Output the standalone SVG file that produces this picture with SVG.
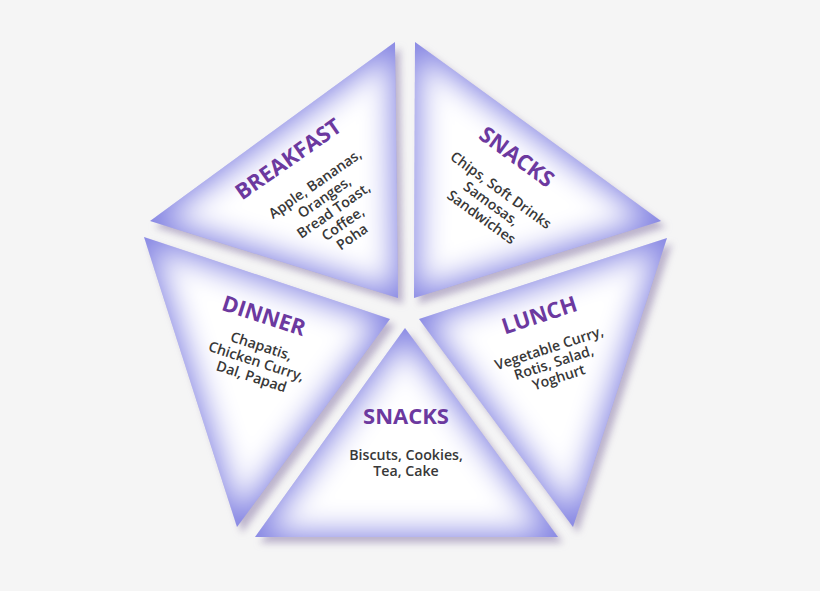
<svg xmlns="http://www.w3.org/2000/svg" width="820" height="591" viewBox="0 0 820 591">
  <defs>
    <filter id="tri" x="-15%" y="-15%" width="135%" height="135%" color-interpolation-filters="sRGB">
      <feGaussianBlur in="SourceAlpha" stdDeviation="3.5" result="sb"/>
      <feOffset in="sb" dx="5" dy="6" result="so"/>
      <feFlood flood-color="#a497bb" flood-opacity="0.7"/>
      <feComposite in2="so" operator="in" result="shadow"/>
      <feFlood flood-color="#8585e3"/>
      <feComposite in2="SourceAlpha" operator="in" result="base"/>
      <feMorphology in="SourceAlpha" operator="erode" radius="4" result="er"/>
      <feGaussianBlur in="er" stdDeviation="15" result="erb"/>
      <feFlood flood-color="#ffffff"/>
      <feComposite in2="erb" operator="in" result="white"/>
      <feComposite in="white" in2="SourceAlpha" operator="in" result="whiteclip"/>
      <feMerge>
        <feMergeNode in="shadow"/>
        <feMergeNode in="base"/>
        <feMergeNode in="whiteclip"/>
      </feMerge>
    </filter>
  </defs>
  <style>
    .shape { fill: #000; filter: url(#tri); }
    .title { font-family: "Open Sans", "Liberation Sans", sans-serif; font-weight: 700; font-size: 22px; fill: #6c399f; text-anchor: middle; }
    .body { font-family: "Open Sans", "Liberation Sans", sans-serif; font-weight: 600; font-size: 14.2px; fill: #383838; text-anchor: middle; }
  </style>
  <rect width="820" height="591" fill="#f5f5f5"/>

  <g id="breakfast">
    <polygon class="shape" points="395,42 150,221 398,298"/>
    <g transform="translate(292.5,165.4) rotate(-35)">
      <text class="title" x="0" y="0">BREAKFAST</text>
      <text class="body" x="7.8" y="33">Apple, Bananas,</text>
      <text class="body" x="7.8" y="49.2">Oranges,</text>
      <text class="body" x="7.8" y="65.3">Bread Toast,</text>
      <text class="body" x="7.8" y="81.5">Coffee,</text>
      <text class="body" x="7.8" y="97.6">Poha</text>
    </g>
  </g>

  <g id="snacks-top">
    <polygon class="shape" points="415,42 661,221 414,298"/>
    <g transform="translate(512.2,163) rotate(36)">
      <text class="title" x="0" y="0">SNACKS</text>
      <text class="body" x="6.9" y="33.5">Chips, Soft Drinks</text>
      <text class="body" x="6.9" y="50.2">Samosas,</text>
      <text class="body" x="6.9" y="66.8">Sandwiches</text>
    </g>
  </g>

  <g id="dinner">
    <polygon class="shape" points="144,237 390,319 237,527"/>
    <g transform="translate(261.6,323) rotate(18)">
      <text class="title" x="0" y="0">DINNER</text>
      <text class="body" x="6.9" y="27">Chapatis,</text>
      <text class="body" x="6.9" y="43">Chicken Curry,</text>
      <text class="body" x="6.9" y="59">Dal, Papad</text>
    </g>
  </g>

  <g id="lunch">
    <polygon class="shape" points="667,238 419,319 573,527"/>
    <g transform="translate(541.7,322.4) rotate(-18)">
      <text class="title" x="0" y="0">LUNCH</text>
      <text class="body" x="-0.9" y="31.6">Vegetable Curry,</text>
      <text class="body" x="-0.9" y="47">Rotis, Salad,</text>
      <text class="body" x="-0.9" y="62.4">Yoghurt</text>
    </g>
  </g>

  <g id="snacks-bottom">
    <polygon class="shape" points="405,328 255,537 558,537"/>
    <g transform="translate(406,424)">
      <text class="title" x="0" y="0">SNACKS</text>
      <text class="body" x="0" y="35.5">Biscuts, Cookies,</text>
      <text class="body" x="0" y="51.5">Tea, Cake</text>
    </g>
  </g>
</svg>
